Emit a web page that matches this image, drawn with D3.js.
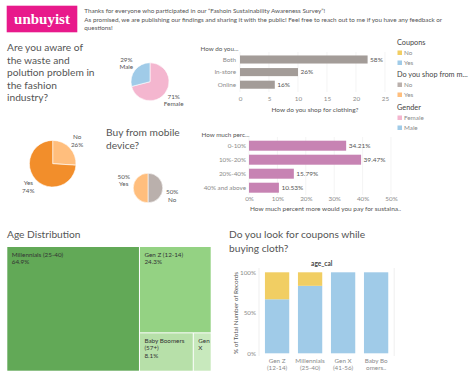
<!DOCTYPE html>
<html><head><meta charset="utf-8">
<script src="https://cdn.jsdelivr.net/npm/d3@7"></script>
<style>
body{margin:0;background:#fff;}
svg{display:block;font-family:Lato,"Open Sans",sans-serif;}
</style></head>
<body><svg id="c" width="474" height="379"></svg>
<script>
// ---------- DATA ----------
const headerLines = [
  "Thanks for everyone who participated in our \u201cFashoin Sustainability Awareness Survey\u201d!",
  "As promised, we are publishing our findings and sharing it with the public! Feel free to reach out to me if you have any feedback or",
  "questions!"
];
const genderCats = ["Female", "Male"];
const genderPct = [71, 29];
const awareCats = ["No", "Yes"];
const awarePct = [26, 74];
const mobileCats = ["No", "Yes"];
const mobilePct = [50, 50];
const shopCats = ["Both", "In-store", "Online"];
const shopCounts = [22, 10, 6];
const shopTicks = [0, 5, 10, 15, 20, 25];
const payCats = ["0-10%", "10%-20%", "20%-40%", "40% and above"];
const payPct = [34.21, 39.47, 15.79, 10.53];
const payTicks = [0, 10, 20, 30, 40, 50];
const ageCats = ["Millennials (25-40)", "Gen Z (12-14)", "Baby Boomers (57+)", "Gen X"];
const agePct = [64.9, 24.3, 8.1, 2.7];
const couponAgeCats = ["Gen Z (12-14)", "Millennials (25-40)", "Gen X (41-56)", "Baby Boomers"];
const couponYes = [66.7, 83.3, 100, 100];
const couponNo = [33.3, 16.7, 0, 0];
const couponTicks = [0, 50, 100];

// ---------- STYLE ----------
const C = {
  text: "#555", light: "#8a8a8a", grid: "#efefef",
  pink: "#f4b6cf", blue: "#a0cbe8", orange: "#f28e2b", lorange: "#ffbe7d",
  gray: "#bab0ac", barGray: "#a39c98", purple: "#c783b3", yellow: "#f1ce63",
  greens: ["#62a957", "#94d283", "#b7e0a9", "#c8e9bd"], logo: "#e8198b"
};
const svg = d3.select("#c");

// ---------- HEADER ----------
svg.append("rect").attr("x", 6.7).attr("y", 5.7).attr("width", 70.6).attr("height", 26.6).attr("fill", C.logo);
svg.append("text").attr("x", 42).attr("y", 23.5).attr("text-anchor", "middle")
  .attr("font-family", "'Liberation Serif','DejaVu Serif',serif").attr("font-weight", "bold")
  .attr("font-size", 15).attr("fill", "#fff").text("unbuyist");
svg.append("g").selectAll("text").data(headerLines).join("text")
  .attr("x", 84.3).attr("y", (d, i) => 13 + i * 8.5).attr("font-size", 6.3).attr("fill", C.text).text(d => d);

// ---------- TITLES ----------
function title(lines, x, y, lh, size) {
  svg.append("g").selectAll("text").data(lines).join("text")
    .attr("x", x).attr("y", (d, i) => y + i * lh).attr("font-size", size).attr("fill", "#555")
    .text(d => d);
}
title(["Are you aware of", "the waste and", "polution problem in", "the fashion", "industry?"], 7, 51.3, 12.4, 10.2);
title(["Buy from mobile", "device?"], 106, 136.2, 12.4, 10.2);
title(["Age Distribution"], 7, 238.2, 12.4, 10.2);
title(["Do you look for coupons while", "buying cloth?"], 229, 238.2, 14, 10.2);

// ---------- PIES ----------
function pie(cats, vals, colors, cx, cy, r, lr, angOff, fmt) {
  const data = d3.pie().sort(null).value(d => d)(vals);
  const arc = d3.arc().innerRadius(0).outerRadius(r);
  const g = svg.append("g").attr("transform", `translate(${cx},${cy})`);
  g.selectAll("path").data(data).join("path").attr("d", arc)
    .attr("fill", (d, i) => colors[i]).attr("stroke", "#fff").attr("stroke-width", 0.6);
  data.forEach((d, i) => {
    const a = (d.startAngle + d.endAngle) / 2 + angOff * Math.PI / 180;
    const x = Math.sin(a) * lr, y = -Math.cos(a) * lr;
    const lines = fmt(cats[i], vals[i]);
    g.append("g").selectAll("text").data(lines).join("text")
      .attr("x", x).attr("y", (t, j) => y - 1.5 + j * 7.6).attr("text-anchor", "middle")
      .attr("font-size", 6.3).attr("fill", C.text).text(t => t);
  });
}
pie(genderCats, genderPct, [C.pink, C.blue], 150, 81.7, 19, 30, 0, (c, v) => [v + "%", c]);
pie(awareCats, awarePct, [C.lorange, C.orange], 52.7, 163.7, 23.3, 33.5, 0, (c, v) => [c, v + "%"]);
pie(mobileCats, mobilePct, [C.gray, C.lorange], 148, 188, 14.8, 25.5, 18, (c, v) => [v + "%", c]);

// ---------- BAR CHART 1 ----------
(function () {
  const total = d3.sum(shopCounts);
  const x = d3.scaleLinear().domain([0, 25]).range([240, 385]);
  const y = d3.scaleBand().domain(shopCats).range([53.2, 91]).paddingInner(0.36).paddingOuter(0.18);
  const g = svg.append("g");
  g.selectAll("line.gr").data(shopTicks).join("line").attr("x1", d => x(d)).attr("x2", d => x(d))
    .attr("y1", 52).attr("y2", 92).attr("stroke", C.grid).attr("stroke-width", 0.7);
  g.selectAll("rect").data(shopCats).join("rect").attr("x", x(0)).attr("y", d => y(d))
    .attr("width", (d, i) => x(shopCounts[i]) - x(0)).attr("height", y.bandwidth()).attr("fill", C.barGray);
  g.selectAll("text.v").data(shopCats).join("text").attr("x", (d, i) => x(shopCounts[i]) + 2.5)
    .attr("y", d => y(d) + y.bandwidth() / 2 + 2.3).attr("font-size", 6.5).attr("fill", C.text)
    .text((d, i) => Math.round(shopCounts[i] / total * 100) + "%");
  g.selectAll("text.c").data(shopCats).join("text").attr("x", 236).attr("text-anchor", "end")
    .attr("y", d => y(d) + y.bandwidth() / 2 + 2.3).attr("font-size", 6.3).attr("fill", C.light).text(d => d);
  const ax = g.append("g").attr("transform", "translate(0,93)")
    .call(d3.axisBottom(x).tickValues(shopTicks).tickSize(0).tickPadding(3.5));
  ax.select(".domain").remove();
  ax.selectAll("text").attr("font-size", 6.3).attr("fill", C.light).attr("font-family", "Lato");
  g.append("text").attr("x", 200.5).attr("y", 51).attr("font-size", 6.3).attr("fill", C.text).text("How do you...");
  g.append("text").attr("x", 315).attr("y", 112).attr("text-anchor", "middle").attr("font-size", 6.5)
    .attr("fill", C.text).text("How do you shop for clothing?");
})();

// ---------- BAR CHART 2 ----------
(function () {
  const x = d3.scaleLinear().domain([0, 50]).range([249, 391]);
  const y = d3.scaleBand().domain(payCats).range([138.7, 194.7]).paddingInner(0.286).paddingOuter(0.143);
  const g = svg.append("g");
  g.selectAll("line.gr").data(payTicks).join("line").attr("x1", d => x(d)).attr("x2", d => x(d))
    .attr("y1", 137).attr("y2", 195).attr("stroke", C.grid).attr("stroke-width", 0.7);
  g.selectAll("rect").data(payCats).join("rect").attr("x", x(0)).attr("y", d => y(d))
    .attr("width", (d, i) => x(payPct[i]) - x(0)).attr("height", y.bandwidth()).attr("fill", C.purple);
  g.selectAll("text.v").data(payCats).join("text").attr("x", (d, i) => x(payPct[i]) + 2.5)
    .attr("y", d => y(d) + y.bandwidth() / 2 + 2.3).attr("font-size", 6.5).attr("fill", C.text)
    .text((d, i) => payPct[i].toFixed(2) + "%");
  g.selectAll("text.c").data(payCats).join("text").attr("x", 246).attr("text-anchor", "end")
    .attr("y", d => y(d) + y.bandwidth() / 2 + 2.3).attr("font-size", 6.3).attr("fill", C.light).text(d => d);
  const ax = g.append("g").attr("transform", "translate(0,194.5)")
    .call(d3.axisBottom(x).tickValues(payTicks).tickFormat(d => d + "%").tickSize(0).tickPadding(2.5));
  ax.select(".domain").remove();
  ax.selectAll("text").attr("font-size", 6.3).attr("fill", C.light).attr("font-family", "Lato");
  g.append("text").attr("x", 201.5).attr("y", 136.5).attr("font-size", 6.3).attr("fill", C.text).text("How much perc...");
  g.append("text").attr("x", 250).attr("y", 210.5).attr("font-size", 6.5)
    .attr("fill", C.text).text("How much percent more would you pay for sustaina..");
})();

// ---------- LEGEND ----------
(function () {
  const groups = [
    { t: "Coupons", y: 44.5, items: [["No", C.yellow], ["Yes", C.blue]] },
    { t: "Do you shop from m...", y: 76.5, items: [["No", C.gray], ["Yes", C.lorange]] },
    { t: "Gender", y: 109.5, items: [["Female", C.pink], ["Male", C.blue]] }
  ];
  const g = svg.append("g");
  groups.forEach(gr => {
    g.append("text").attr("x", 397).attr("y", gr.y).attr("font-size", 7.3).attr("fill", "#444").text(gr.t);
    gr.items.forEach((it, i) => {
      const yy = gr.y + 8.5 + i * 10;
      g.append("rect").attr("x", 397.5).attr("y", yy - 2.5).attr("width", 4.5).attr("height", 4.5).attr("fill", it[1]);
      g.append("text").attr("x", 404).attr("y", yy + 2).attr("font-size", 6.3).attr("fill", C.light).text(it[0]);
    });
  });
})();

// ---------- TREEMAP ----------
(function () {
  const root = d3.hierarchy({ children: ageCats.map((c, i) => ({ name: c, value: agePct[i] })) })
    .sum(d => d.value || 0).sort((a, b) => b.value - a.value);
  d3.treemap().size([203.4, 123.7]).paddingInner(1).tile(d3.treemapSquarify.ratio(1))(root);
  const g = svg.append("g").attr("transform", "translate(7.3,247)");
  const labelLines = {
    "Millennials (25-40)": ["Millennials (25-40)"],
    "Gen Z (12-14)": ["Gen Z (12-14)"],
    "Baby Boomers (57+)": ["Baby Boomers", "(57+)"],
    "Gen X": ["Gen", "X"]
  };
  root.leaves().forEach((l, i) => {
    g.append("rect").attr("x", l.x0).attr("y", l.y0).attr("width", l.x1 - l.x0).attr("height", l.y1 - l.y0)
      .attr("fill", C.greens[ageCats.indexOf(l.data.name)]);
    const lines = labelLines[l.data.name].slice();
    if (l.data.name !== "Gen X") lines.push(l.data.value + "%");
    g.append("g").selectAll("text").data(lines).join("text").attr("x", l.x0 + 4.5)
      .attr("y", (t, j) => l.y0 + 9.5 + j * 7.4).attr("font-size", 6.3).attr("fill", "#333").text(t => t);
  });
})();

// ---------- STACKED BARS ----------
(function () {
  const y = d3.scaleLinear().domain([0, 100]).range([353.3, 272.3]);
  const x = d3.scaleBand().domain(couponAgeCats).range([259, 394.2]).paddingInner(0.264).paddingOuter(0.18);
  const g = svg.append("g");
  g.append("line").attr("x1", 259).attr("x2", 259).attr("y1", 268).attr("y2", 356).attr("stroke", C.grid);
  g.append("line").attr("x1", 394.2).attr("x2", 394.2).attr("y1", 268).attr("y2", 356).attr("stroke", C.grid);
  g.selectAll("rect.y").data(couponAgeCats).join("rect").attr("x", d => x(d)).attr("width", x.bandwidth())
    .attr("y", (d, i) => y(couponYes[i])).attr("height", (d, i) => y(0) - y(couponYes[i])).attr("fill", C.blue);
  g.selectAll("rect.n").data(couponAgeCats).join("rect").attr("x", d => x(d)).attr("width", x.bandwidth())
    .attr("y", (d, i) => y(couponYes[i] + couponNo[i])).attr("height", (d, i) => y(couponYes[i]) - y(couponYes[i] + couponNo[i]))
    .attr("fill", C.yellow);
  const ax = g.append("g").attr("transform", "translate(258,0)")
    .call(d3.axisLeft(y).tickValues(couponTicks).tickFormat(d => d + "%").tickSize(0).tickPadding(2));
  ax.select(".domain").remove();
  ax.selectAll("text").attr("font-size", 6.3).attr("fill", C.light).attr("font-family", "Lato");
  const catLines = {
    "Gen Z (12-14)": ["Gen Z", "(12-14)"], "Millennials (25-40)": ["Millennials", "(25-40)"],
    "Gen X (41-56)": ["Gen X", "(41-56)"], "Baby Boomers": ["Baby Bo", "omers.."]
  };
  couponAgeCats.forEach(c => {
    g.append("g").selectAll("text").data(catLines[c]).join("text")
      .attr("x", x(c) + x.bandwidth() / 2).attr("y", (t, j) => 362.8 + j * 7.6).attr("text-anchor", "middle")
      .attr("font-size", 6.3).attr("fill", C.light).text(t => t);
  });
  g.append("text").attr("x", 321.7).attr("y", 265.5).attr("text-anchor", "middle").attr("font-size", 6.5)
    .attr("font-weight", "bold").attr("fill", "#444").text("age_cal");
  g.append("text").attr("transform", "translate(237.5,313) rotate(-90)").attr("text-anchor", "middle")
    .attr("font-size", 6.3).attr("fill", C.text).text("% of Total Number of Records");
})();
</script>
</body></html>
